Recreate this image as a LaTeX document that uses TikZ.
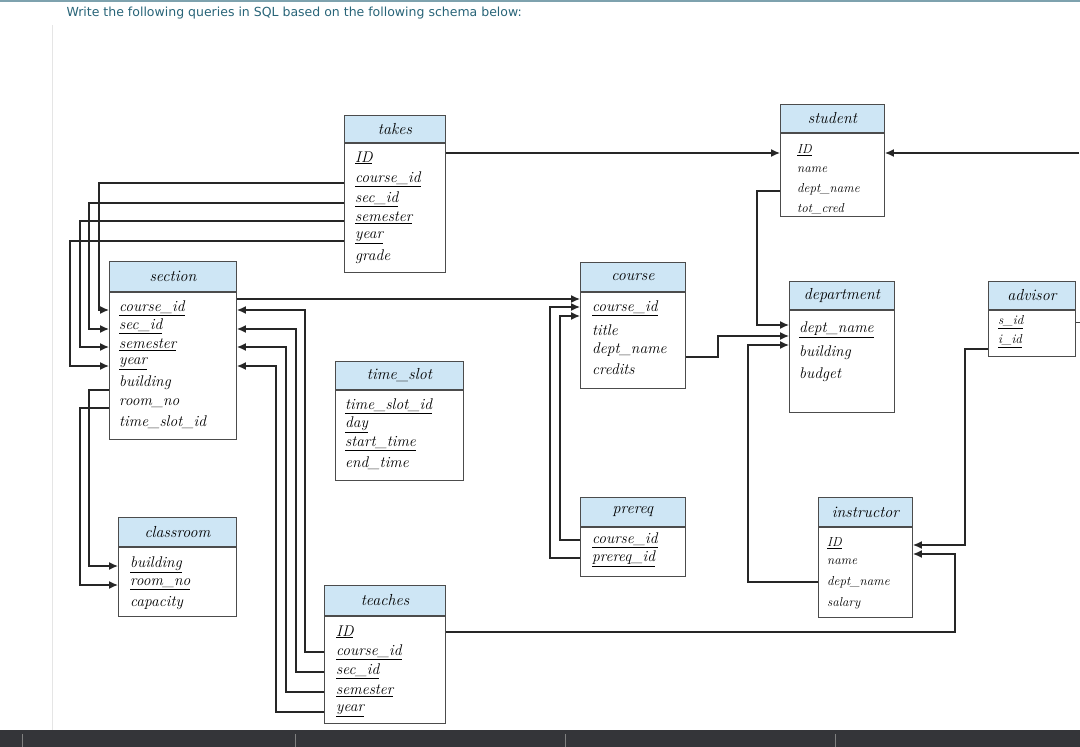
\documentclass[tikz,border=0pt]{standalone}
\usepackage{fontspec}
\newfontfamily\uisans{DejaVu Sans}
\usetikzlibrary{positioning,arrows.meta}
\definecolor{hdrblue}{RGB}{206,230,245}
\definecolor{uiteal}{RGB}{40,100,120}
\definecolor{barcol}{RGB}{52,53,57}
\tikzset{
  hdr/.style={draw=black!70, line width=0.9pt, fill=hdrblue, anchor=north west, inner sep=0pt,
    font=\fontsize{16}{16}\selectfont\itshape},
  body/.style={draw=black!70, line width=0.9pt, anchor=north west, inner sep=0pt},
  row/.style={anchor=west, inner sep=0pt, font=\fontsize{15.5}{15.5}\selectfont\itshape},
  srow/.style={row, font=\fontsize{13}{13}\selectfont\itshape},
  fk/.style={-{Latex[length=9pt,width=8pt]}, line width=1.4pt, black!85},
  ln/.style={line width=0.9pt, black!75}
}
% table: name, x, y top, width, header height, body height, title
\newcommand{\reltab}[7]{%
  \node[hdr, minimum width=#4pt, minimum height=#5pt] (#1-h) at (#2,#3) {#7};
  \node[body, minimum width=#4pt, minimum height=#6pt, below=0pt of #1-h.south west, anchor=north west] (#1) {};}
\begin{document}
\begin{tikzpicture}[x=1pt,y=-1pt]
\useasboundingbox (0,0) rectangle (1080,747);
% Frame
  \draw[uiteal!60, line width=1.5pt] (0,0.75) -- (1080,0.75);
  \draw[black!10] (52,25) -- (52,730);
  \node[anchor=west, text=uiteal, font=\uisans\fontsize{12.5}{12.5}\selectfont] (title) at (63,13)
    {Write the following queries in SQL based on the following schema below:};
  \fill[barcol] (0,730) rectangle (1080,747);
  \foreach \x in {22,295,565,835}
    \draw[black!50] (\x,734) -- (\x,747);

% Tables
\reltab{takes}{344}{115}{101}{27}{129}{takes}
\node[row] (takes-id) at (355,158) {\underline{ID}};
\node[row] (takes-cid) at (355,179) {\underline{course\_id}};
\node[row] (takes-sid) at (355,199) {\underline{sec\_id}};
\node[row] (takes-sem) at (355,218) {\underline{semester}};
\node[row] (takes-yr) at (355,238) {\underline{year}};
\node[row] (takes-gr) at (355,257) {grade};

\reltab{section}{109}{261}{127}{30}{147}{section}
\node[row] (section-cid) at (119,308) {\underline{course\_id}};
\node[row] (section-sid) at (119,326) {\underline{sec\_id}};
\node[row] (section-sem) at (119,345) {\underline{semester}};
\node[row] (section-yr) at (119,364) {\underline{year}};
\node[row] (section-bld) at (119,383) {building};
\node[row] (section-rm) at (119,403) {room\_no};
\node[row] (section-ts) at (119,422) {time\_slot\_id};

\reltab{timeslot}{335}{361}{128}{28}{90}{time\_slot}
\node[row] (timeslot-id) at (345,406) {\underline{time\_slot\_id}};
\node[row] (timeslot-day) at (345,425) {\underline{day}};
\node[row] (timeslot-st) at (345,444) {\underline{start\_time}};
\node[row] (timeslot-et) at (345,463) {end\_time};

\reltab{classroom}{118}{517}{118}{29}{69}{classroom}
\node[row] (classroom-bld) at (130,565) {\underline{building}};
\node[row] (classroom-rm) at (130,584) {\underline{room\_no}};
\node[row] (classroom-cap) at (130,603) {capacity};

\reltab{teaches}{324}{585}{121}{30}{107}{teaches}
\node[row] (teaches-id) at (336,632) {\underline{ID}};
\node[row] (teaches-cid) at (336,652) {\underline{course\_id}};
\node[row] (teaches-sid) at (336,671) {\underline{sec\_id}};
\node[row] (teaches-sem) at (336,691) {\underline{semester}};
\node[row] (teaches-yr) at (336,711) {\underline{year}};

\reltab{course}{580}{262}{105}{29}{96}{course}
\node[row] (course-cid) at (592,308) {\underline{course\_id}};
\node[row] (course-tit) at (592,330) {title};
\node[row] (course-dep) at (592,350) {dept\_name};
\node[row] (course-cr) at (592,369) {credits};

\reltab{prereq}{580}{497}{105}{29}{49}{prereq}
\node[row] (prereq-cid) at (592,540) {\underline{course\_id}};
\node[row] (prereq-pid) at (592,559) {\underline{prereq\_id}};

\reltab{student}{780}{104}{104}{28}{83}{student}
\node[srow] (student-id) at (797,150) {\underline{ID}};
\node[srow] (student-nm) at (797,170) {name};
\node[srow] (student-dep) at (797,189) {dept\_name};
\node[srow] (student-tc) at (797,209) {tot\_cred};

\reltab{department}{789}{281}{105}{28}{102}{department}
\node[row] (department-dn) at (799,330) {\underline{dept\_name}};
\node[row] (department-bld) at (799,353) {building};
\node[row] (department-bud) at (799,375) {budget};

\reltab{advisor}{988}{281}{87}{28}{46}{advisor}
\node[srow] (advisor-sid) at (998,322) {\underline{s\_id}};
\node[srow] (advisor-iid) at (998,341) {\underline{i\_id}};

\reltab{instructor}{818}{497}{94}{29}{90}{instructor}
\node[srow] (instructor-id) at (827,543) {\underline{ID}};
\node[srow] (instructor-nm) at (827,562) {name};
\node[srow] (instructor-dep) at (827,582) {dept\_name};
\node[srow] (instructor-sal) at (827,603) {salary};

% Free ends at the right edge
\coordinate (edge-st) at (1079,153);
\coordinate (edge-adv) at (1080,322);

% Connectors
\draw[fk] (takes.east |- 0,153) -- (student.west |- 0,153);
\draw[fk] (edge-st) -- (student.east |- edge-st);
\draw[ln] (advisor.east |- edge-adv) -- (edge-adv);

\draw[fk] (takes.west |- 0,183) -| (99,310) -- (section.west |- 0,310);
\draw[fk] (takes.west |- 0,203) -| (89,329) -- (section.west |- 0,329);
\draw[fk] (takes.west |- 0,221) -| (80,347) -- (section.west |- 0,347);
\draw[fk] (takes.west |- 0,241) -| (70,366) -- (section.west |- 0,366);

\draw[fk] (section.west |- 0,390) -| (89,566) -- (classroom.west |- 0,566);
\draw[fk] (section.west |- 0,408) -| (80,585) -- (classroom.west |- 0,585);

\draw[fk] (teaches.west |- 0,652) -| (305,310) -- (section.east |- 0,310);
\draw[fk] (teaches.west |- 0,672) -| (296,329) -- (section.east |- 0,329);
\draw[fk] (teaches.west |- 0,692) -| (286,347) -- (section.east |- 0,347);
\draw[fk] (teaches.west |- 0,712) -| (276,366) -- (section.east |- 0,366);

\draw[fk] (section.east |- 0,299) -- (course.west |- 0,299);
\draw[fk] (prereq.west |- 0,558) -| (550,307) -- (course.west |- 0,307);
\draw[fk] (prereq.west |- 0,540) -| (560,316) -- (course.west |- 0,316);

\draw[fk] (student.west |- 0,191) -| (757,325) -- (department.west |- 0,325);
\draw[fk] (course.east |- 0,357) -| (718,336) -- (department.west |- 0,336);
\draw[fk] (instructor.west |- 0,582) -| (748,345) -- (department.west |- 0,345);

\draw[fk] (advisor.west |- 0,349) -| (965,545) -- (instructor.east |- 0,545);
\draw[fk] (teaches.east |- 0,632) -| (955,554) -- (instructor.east |- 0,554);
\end{tikzpicture}
\end{document}
